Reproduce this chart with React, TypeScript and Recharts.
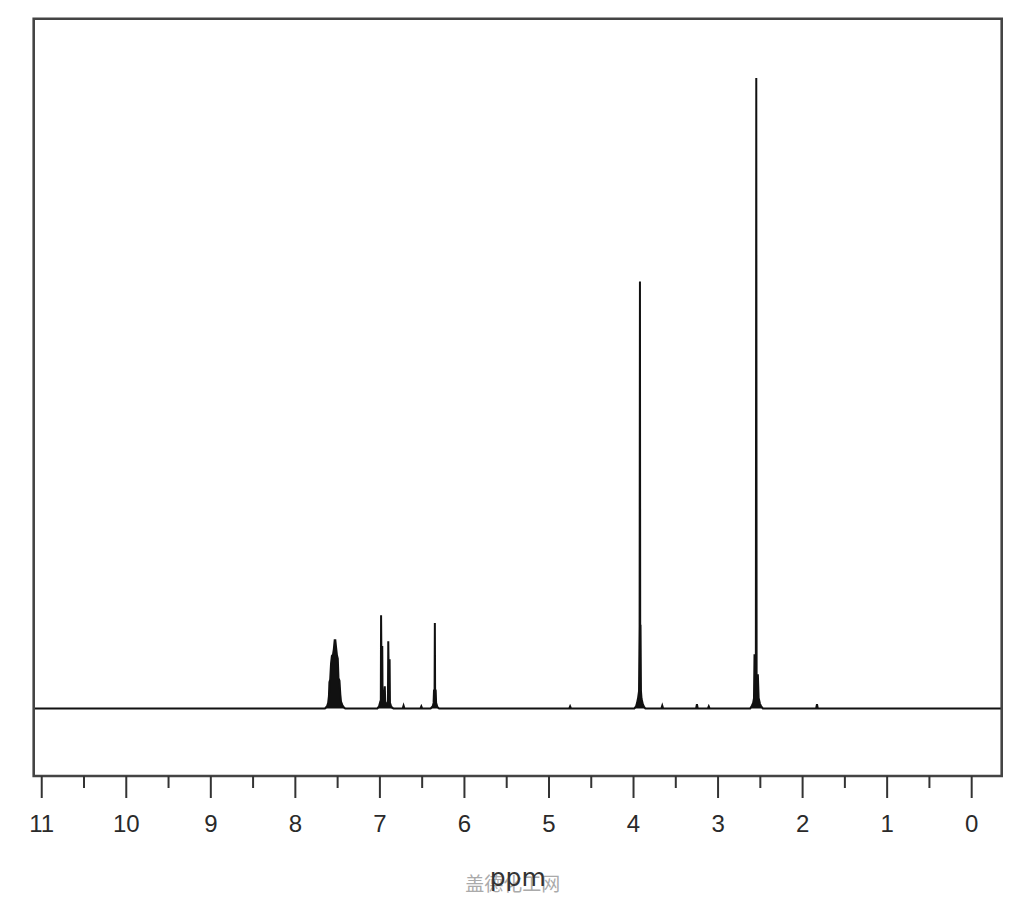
import React from 'react';
import { AreaChart, Area, XAxis, YAxis, ReferenceArea } from 'recharts';

// ppm axis
const xMin = -0.355;
const xMax = 11.095;
const yMin = -9.8;
const yMax = 100;
const majorTicks = [11, 10, 9, 8, 7, 6, 5, 4, 3, 2, 1, 0];
const minorTicks = [10.5, 9.5, 8.5, 7.5, 6.5, 5.5, 4.5, 3.5, 2.5, 1.5, 0.5];
const axisTitle = 'ppm';
const watermark = '盖德化工网';

// spectrum pieces: [ppm, intensity]
const baselineEnds: [number, number][] = [[11.095, 0], [-0.355, 0]];
const multiplet75: [number, number][] = [
  [7.65, 0], [7.625, 0.3], [7.612, 0.8], [7.603, 1.8], [7.597, 3.8], [7.588, 4.2],
  [7.578, 6.5], [7.568, 7.6], [7.555, 7.8], [7.545, 8.6], [7.535, 9.9], [7.527, 9.9],
  [7.518, 8.8], [7.508, 7.7], [7.498, 7.2], [7.49, 4.4], [7.478, 4.0], [7.468, 2.0],
  [7.46, 1.0], [7.445, 0.5], [7.43, 0.2], [7.41, 0],
];
const doublet69: [number, number][] = [
  [7.03, 0], [7.01, 0.3], [6.995, 1.0], [6.989, 1.2], [6.986, 13.5], [6.983, 8.9],
  [6.972, 8.9], [6.968, 1.0], [6.955, 0.5], [6.942, 3.2], [6.936, 0.5], [6.92, 0.6],
  [6.905, 1.0], [6.901, 9.75], [6.898, 7.0], [6.885, 7.0], [6.881, 0.8], [6.87, 0.4],
  [6.855, 0.1], [6.84, 0],
];
const minorBumps: [number, number][] = [
  [6.73, 0], [6.72, 0.4], [6.71, 0],
  [6.52, 0], [6.51, 0.3], [6.5, 0],
  [4.76, 0], [4.75, 0.3], [4.74, 0],
  [3.67, 0], [3.66, 0.4], [3.65, 0],
  [3.26, 0], [3.25, 0.6], [3.24, 0],
  [3.12, 0], [3.11, 0.3], [3.1, 0],
  [1.84, 0], [1.83, 0.6], [1.82, 0],
];
const singlet635: [number, number][] = [
  [6.4, 0], [6.375, 0.3], [6.365, 0.8], [6.36, 2.6], [6.353, 2.8], [6.35, 12.4],
  [6.347, 2.8], [6.34, 2.6], [6.335, 0.8], [6.32, 0.2], [6.3, 0],
];
const singlet393: [number, number][] = [
  [3.99, 0], [3.97, 0.3], [3.958, 0.8], [3.945, 1.6], [3.935, 2.5], [3.928, 12.0],
  [3.924, 61.9], [3.921, 12.0], [3.917, 12.0], [3.912, 2.5], [3.905, 1.4], [3.89, 0.6],
  [3.875, 0.2], [3.86, 0],
];
const singlet255: [number, number][] = [
  [2.62, 0], [2.6, 0.4], [2.585, 0.8], [2.575, 1.5], [2.569, 7.7], [2.553, 7.7],
  [2.548, 91.4], [2.544, 4.8], [2.529, 4.8], [2.52, 1.5], [2.505, 0.7], [2.49, 0.3],
  [2.47, 0],
];

const spectrum = [
  ...baselineEnds, ...multiplet75, ...doublet69, ...minorBumps,
  ...singlet635, ...singlet393, ...singlet255,
]
  .sort((a, b) => b[0] - a[0])
  .map(([ppm, i]) => ({ ppm, i }));

const allTicks = [...majorTicks, ...minorTicks].sort((a, b) => b - a);

const AxisTick = (props: any) => {
  const { x, y, payload } = props;
  const v = payload.value as number;
  const major = Number.isInteger(v);
  return (
    <g>
      <line x1={x} x2={x} y1={y} y2={y + (major ? 22 : 12)} stroke="#333" strokeWidth={2} />
      {major && (
        <text
          x={x}
          y={y + 47}
          textAnchor="middle"
          dominantBaseline="central"
          fontFamily="'Liberation Sans', Arial, sans-serif"
          fontSize={24}
          fill="#2a2a2a"
        >
          {v}
        </text>
      )}
    </g>
  );
};

const AxisLabel = (props: any) => {
  const vb = props.viewBox || {};
  const cx = vb.x + vb.width / 2;
  const y0 = vb.y;
  return (
    <g>
      <text
        x={cx - 5}
        y={y0 + 106}
        textAnchor="middle"
        dominantBaseline="central"
        fontFamily="'Noto Sans CJK SC', sans-serif"
        fontSize={19}
        fill="#aaa"
      >
        {watermark}
      </text>
      <text
        x={cx}
        y={y0 + 110}
        textAnchor="middle"
        fontFamily="'DejaVu Sans', sans-serif"
        fontSize={25}
        fill="#333"
      >
        {axisTitle}
      </text>
    </g>
  );
};

export default function App() {
  return (
    <div style={{ width: 1010, height: 892 }}>
      <AreaChart
        width={1010}
        height={892}
        data={spectrum}
        margin={{ top: 10.7, right: 16.3, left: 25.7, bottom: 0 }}
      >
        <XAxis
          type="number"
          dataKey="ppm"
          domain={[xMin, xMax]}
          reversed
          allowDataOverflow
          ticks={allTicks}
          interval={0}
          tick={<AxisTick />}
          tickLine={false}
          tickSize={0}
          tickMargin={0}
          axisLine={false}
          height={124}
          label={<AxisLabel />}
        />
        <YAxis type="number" domain={[yMin, yMax]} hide allowDataOverflow />
        <Area
          type="linear"
          dataKey="i"
          stroke="#111"
          strokeWidth={2}
          fill="#111"
          fillOpacity={1}
          baseValue={0}
          dot={false}
          activeDot={false}
          isAnimationActive={false}
        />
        <ReferenceArea
          x1={xMin}
          x2={xMax}
          y1={yMin}
          y2={yMax}
          fill="none"
          stroke="#444"
          strokeWidth={2.6}
          ifOverflow="visible"
        />
      </AreaChart>
    </div>
  );
}
